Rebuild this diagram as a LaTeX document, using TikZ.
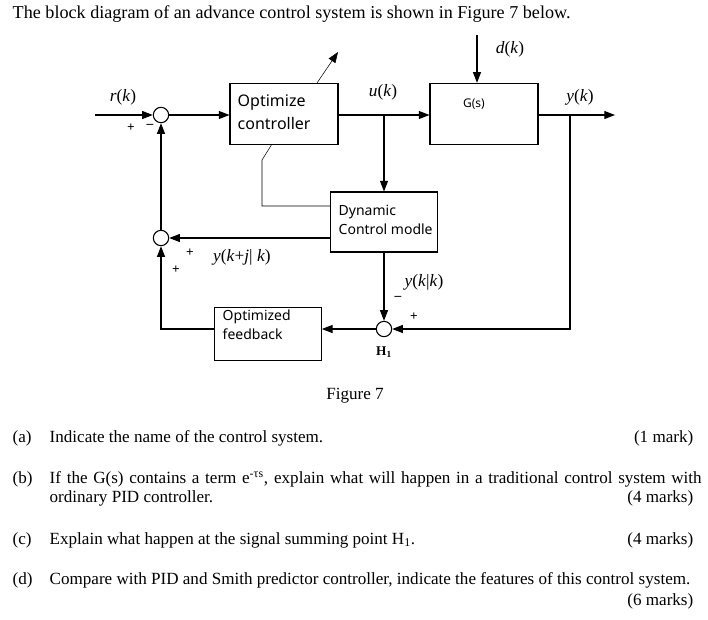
\documentclass[tikz,border=0pt]{standalone}
\usepackage{fontspec}
\setmainfont{Liberation Serif}
\newfontfamily\blk{Noto Sans}
\usetikzlibrary{arrows.meta}
\begin{document}
\begin{tikzpicture}[x=0.75pt,y=-0.75pt,
  blk/.style={draw,thick,inner sep=0pt},
  sum/.style={draw,thick,circle,minimum size=11.5pt,inner sep=0pt},
  lab/.style={font=\fontsize{13}{15}\selectfont},
  btxt/.style={font=\blk\fontsize{10.5}{14.5}\selectfont,align=left,anchor=north west},
  sgn/.style={font=\bfseries\fontsize{10}{10}\selectfont},
  q/.style={font=\fontsize{12.8}{15}\selectfont,anchor=base west},
  qr/.style={font=\fontsize{12.8}{15}\selectfont,anchor=base east},
  ar/.style={-{Triangle[length=8pt,width=6pt]},thick}]
\useasboundingbox (0,0) rectangle (708,619);
\node[font=\fontsize{13.6}{16}\selectfont,anchor=base west] (title) at (8,18) {The block diagram of an advance control system is shown in Figure 7 below.};
% blocks
\node[blk,minimum width=81pt,minimum height=46pt] (oc) at (284,114) {};
\node[btxt,font=\blk\fontsize{12}{17}\selectfont] at (233,90) {Optimize\\controller};
\node[blk,minimum width=81pt,minimum height=46pt] (gs) at (484,114) {};
\node[font=\blk\fontsize{9}{11}\selectfont] at (474,104) {G(s)};
\node[blk,minimum width=80pt,minimum height=45pt] (dm) at (384,222) {};
\node[btxt] at (334,200) {Dynamic\\Control modle};
\node[blk,minimum width=80pt,minimum height=40pt] (of) at (268,334) {};
\node[btxt] at (218,305) {Optimized\\feedback};
% sums
\node[sum] (s1) at (161,115) {};
\node[sum] (s2) at (161,238) {};
\node[sum] (h1) at (384,329) {};
% coordinates
\coordinate (rin) at (95,115);
\coordinate (dtop) at (477,35);
\coordinate (yout) at (615,115);
\coordinate (br) at (384,115);
\coordinate (by) at (570,115);
% connectors
\draw[ar] (rin) -- (s1);
\draw[ar] (s1) -- (oc.west|-s1);
\draw[ar] (oc.east|-br) -- (gs.west|-br);
\draw[ar] (br) -- (dm.north);
\draw[ar] (dtop) -- (gs.north-|dtop);
\draw[ar] (gs.east|-yout) -- (yout);
\draw[ar] (by) -- (570,329) -- (h1);
\draw[ar] (dm.south) -- (h1);
\draw[ar] (h1) -- (of.east|-h1);
\draw[ar] (of.west|-h1) -- (161,329) -- (s2);
\draw[ar] (dm.west|-s2) -- (s2);
\draw[ar] (s2) -- (s1);
\draw[thin] (272,144) -- (262,160) -- (262,206) -- (dm.west|-{(0,206)});
\draw[-{Triangle[length=8pt,width=6pt]}] (317,83) -- (338,52);
% labels
\node[lab] at (123,97) {\textit{r}(\textit{k})};
\node[lab] at (383,92) {\textit{u}(\textit{k})};
\node[lab] at (510,49) {\textit{d}(\textit{k})};
\node[lab] at (580,97) {\textit{y}(\textit{k})};
\node[lab] at (242,257) {\textit{y}(\textit{k}+\textit{j}| \textit{k})};
\node[lab] at (424,282) {\textit{y}(\textit{k}|\textit{k})};
\node[sgn] at (131,128) {+};
\node[sgn] at (150,124) {\_};
\node[sgn] at (190,253) {+};
\node[sgn] at (176,270) {+};
\node[sgn] at (398,296) {\_};
\node[sgn] at (414,317) {+};
\node[font=\bfseries\fontsize{10}{10}\selectfont] at (384,352) {H\textsubscript{1}};
\node[font=\fontsize{12.8}{15}\selectfont] at (355,396) {Figure 7};
% questions
\node[q] at (8,442) {(a)}; \node[q] at (45,442) {Indicate the name of the control system.};
\node[qr] at (698,442) {(1 mark)};
\node[q] at (8,483) {(b)}; \node[q] at (45,483) {\makebox[489pt][s]{If the G(s) contains a term e\textsuperscript{-τs}, explain what will happen in a traditional control system with}};
\node[q] at (45,502) {ordinary PID controller.};
\node[qr] at (698,502) {(4 marks)};
\node[q] at (8,544) {(c)}; \node[q] at (45,544) {Explain what happen at the signal summing point H\textsubscript{1}.};
\node[qr] at (698,544) {(4 marks)};
\node[q] at (8,584) {(d)}; \node[q] at (45,584) {Compare with PID and Smith predictor controller, indicate the features of this control system.};
\node[qr] at (698,605) {(6 marks)};
\end{tikzpicture}
\end{document}
